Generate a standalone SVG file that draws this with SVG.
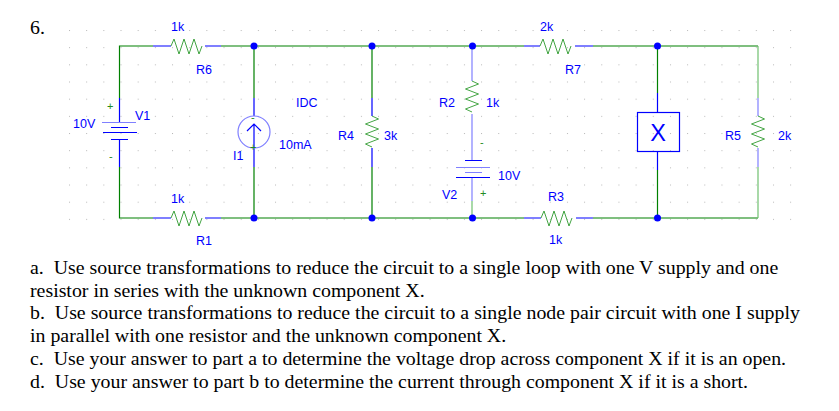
<svg xmlns="http://www.w3.org/2000/svg" width="839" height="411" viewBox="0 0 839 411">
<style>
.w{fill:none;stroke:#008000;stroke-width:1.2}
.lw{fill:none;stroke:#70c070;stroke-width:1.2}
.b{fill:none;stroke:#0000ff;stroke-width:1.2}
.lb{fill:none;stroke:#8080ff;stroke-width:1.2}
.r{fill:none;stroke:#2e9a2e;stroke-width:0.9}
.d{fill:#0000ff}
.l{font-family:"Liberation Sans",Arial,sans-serif;font-size:12.500px;fill:#0000ff}
.p{font-family:"Liberation Sans",Arial,sans-serif;font-size:11px;fill:#228b22}
.q{font-family:"Liberation Serif","Times New Roman",serif;font-size:19.850px;fill:#000;white-space:pre}
</style>
<defs>
<pattern id="g" x="69" y="30" width="17.17" height="17.17" patternUnits="userSpaceOnUse"><rect width="1" height="1" fill="#b8b8b8"/></pattern>
<path id="rh" class="r" d="M0 0l3-7 5 15 5-15 5 15 5-15 5 15 3-8"/>
<path id="rv" class="r" d="M0 0l6.500 3-13 5 13 5-13 5 13 5-13 5 6.500 3"/>
</defs>
<rect width="839" height="411" fill="#fff"/>
<rect x="69" y="30" width="724" height="206" fill="url(#g)"/>
<text class="q" x="30" y="34">6.</text>
<g id="connectors">
<path class="w" d="M153 46H119.500V98M119.500 167V218H153M221 46H372M372 46H472M472 46H524M593 46H758M221 218H524M593 218H758M254 46V98M254 167V218M372 46V98M372 167V218M657.500 46V93M657.500 170V218"/>
<path class="lw" d="M472 46V50M472 201V218M758 46V98M758 167V218"/>
<path class="b" d="M119.500 98V122M119.500 139V167M153 46H171M205 46H221M153 218H171M205 218H221M254 98V116M254 148V167M372 98V116M372 148V167M524 46H540M575 46H593M524 218H541M576 218H593M657.500 93V112M657.500 152V170"/>
<path class="lb" d="M472 50V81M472 114V160M472 177V201M758 98V116M758 148V167"/>
</g>
<g id="V1"><path class="lb" d="M102 122.500H136"/><path class="b" d="M111 127.500H128M103 132.500H137M111 139.500H128"/><text class="p" x="107" y="110">+</text><text class="p" x="109" y="160">-</text><text class="l" x="135" y="120">V1</text><text class="l" x="73" y="128">10V</text></g>
<g id="R6"><use href="#rh" x="171" y="46"/><text class="l" x="171" y="31">1k</text><text class="l" x="196" y="74">R6</text></g>
<g id="R1"><use href="#rh" x="171" y="218"/><text class="l" x="171" y="203">1k</text><text class="l" x="196" y="245">R1</text></g>
<g id="I1"><circle class="lb" cx="254" cy="132" r="16"/><path class="b" d="M254 148V124M247 131l7-7 7 7" stroke-width="1"/><text class="p" x="251" y="121" font-size="9">-</text><text class="p" x="250" y="151">+</text><text class="l" x="233" y="160">I1</text><text class="l" x="296" y="107">IDC</text><text class="l" x="279" y="149">10mA</text></g>
<g id="R4"><use href="#rv" x="372" y="116"/><text class="l" x="338" y="140">R4</text><text class="l" x="384" y="140">3k</text></g>
<g id="R2"><use href="#rv" x="472" y="81"/><text class="l" x="439" y="107">R2</text><text class="l" x="486" y="107">1k</text></g>
<g id="V2"><path class="b" d="M465 160.500H482M456 177.500H490"/><path class="lb" d="M456 167.500H490M465 172.500H482"/><text class="p" x="480" y="146">-</text><text class="p" x="480" y="197">+</text><text class="l" x="498" y="180">10V</text><text class="l" x="442" y="199">V2</text></g>
<g id="R7"><use href="#rh" x="540" y="46"/><text class="l" x="540" y="31">2k</text><text class="l" x="565" y="74">R7</text></g>
<g id="R3"><use href="#rh" x="541" y="218"/><text class="l" x="548" y="201">R3</text><text class="l" x="549" y="244">1k</text></g>
<g id="X"><rect class="b" x="637.500" y="112.500" width="42" height="39"/><text x="658" y="141" text-anchor="middle" font-family="Liberation Sans,Arial,sans-serif" font-size="23.500" fill="#0000ff">X</text></g>
<g id="R5"><use href="#rv" x="758" y="116"/><text class="l" x="725" y="140">R5</text><text class="l" x="778" y="140">2k</text></g>
<g id="junctions"><circle class="d" cx="254" cy="46" r="3.500"/><circle class="d" cx="372" cy="46" r="3.500"/><circle class="d" cx="472.500" cy="46" r="3.500"/><circle class="d" cx="657.500" cy="46" r="3.500"/><circle class="d" cx="254" cy="218" r="3.500"/><circle class="d" cx="372" cy="218" r="3.500"/><circle class="d" cx="472.500" cy="218" r="3.500"/><circle class="d" cx="657.500" cy="218" r="3.500"/></g>
<g id="text">
<text class="q" x="30" y="274">a.  Use source transformations to reduce the circuit to a single loop with one V supply and one</text>
<text class="q" x="30" y="297">resistor in series with the unknown component X.</text>
<text class="q" x="30" y="319">b.  Use source transformations to reduce the circuit to a single node pair circuit with one I supply</text>
<text class="q" x="30" y="342">in parallel with one resistor and the unknown component X.</text>
<text class="q" x="30" y="365">c.  Use your answer to part a to determine the voltage drop across component X if it is an open.</text>
<text class="q" x="30" y="388">d.  Use your answer to part b to determine the current through component X if it is a short.</text>
</g>
</svg>
